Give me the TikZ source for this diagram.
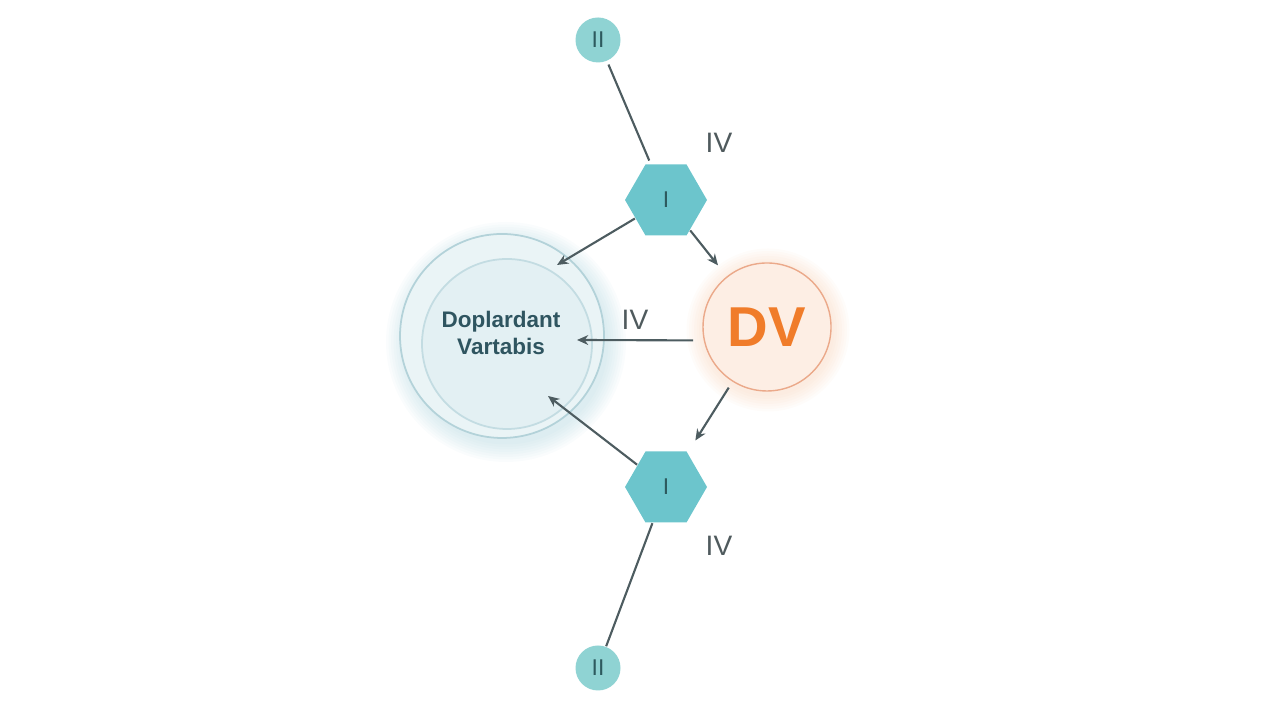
\documentclass[tikz,border=0pt]{standalone}
\usepackage{fontspec}
\setmainfont{Liberation Sans}
\usetikzlibrary{shapes.geometric,arrows.meta}
\definecolor{hexfill}{HTML}{6CC5CC}
\definecolor{smallfill}{HTML}{8FD3D3}
\definecolor{tealtext}{HTML}{2D5A5E}
\definecolor{linegray}{HTML}{4D5C60}
\definecolor{labelgray}{HTML}{4F5A5D}
\definecolor{bigfill}{HTML}{EAF4F6}
\definecolor{bigline}{HTML}{B3D2D9}
\definecolor{innerfill}{HTML}{E3F0F3}
\definecolor{innerline}{HTML}{C3DCE2}
\definecolor{bigtext}{HTML}{2F5560}
\definecolor{glowblue}{HTML}{9CCAD6}
\definecolor{dvfill}{HTML}{FDEEE4}
\definecolor{dvline}{HTML}{EBA98A}
\definecolor{dvtext}{HTML}{F07C2A}
\definecolor{dvglow}{HTML}{F6C9A8}

\begin{document}
\begin{tikzpicture}[
  hexnode/.style={regular polygon, regular polygon sides=6, minimum size=0.82cm, inner sep=0pt, fill=hexfill, text=tealtext, font=\fontsize{6.5}{7}\selectfont},
  smallnode/.style={circle, minimum size=0.45cm, inner sep=0pt, fill=smallfill, text=tealtext, font=\fontsize{6.5}{7}\selectfont},
  link/.style={draw=linegray, line width=0.6pt},
  arr/.style={link, -{Stealth[length=3.2pt,width=2.8pt]}},
  ivlabel/.style={text=labelgray, font=\fontsize{8}{9}\selectfont}
]
\useasboundingbox (0,0) rectangle (12.8,7.2);

% soft halos behind the two big circles
\foreach \i in {1,...,8}
  \fill[glowblue, opacity=0.05] (5.06,3.78) circle ({1.00+0.025*\i});
\foreach \i in {1,...,7}
  \fill[dvglow, opacity=0.06] (7.68,3.90) circle ({0.64+0.025*\i});

\node[circle, minimum size=2.04cm, fill=bigfill, draw=bigline, line width=0.5pt] (big) at (5.02,3.84) {};
\node[circle, minimum size=1.70cm, fill=innerfill, draw=innerline, line width=0.5pt] (inner) at (5.07,3.76) {};
\node[align=center, text=bigtext, font=\fontsize{6.4}{7.7}\selectfont\bfseries] (biglabel) at (5.01,3.87) {Doplardant\\Vartabis};

\node[circle, minimum size=1.28cm, fill=dvfill, draw=dvline, line width=0.4pt, text=dvtext, font=\fontsize{16}{18}\selectfont\bfseries] (DV) at (7.67,3.93) {DV};

\node[smallnode] (tII) at (5.98,6.80) {II};
\node[hexnode] (hexTop) at (6.66,5.20) {I};
\node[hexnode] (hexBot) at (6.66,2.33) {I};
\node[smallnode] (bII) at (5.98,0.52) {II};

\coordinate (tipA) at (5.57,4.55);
\coordinate (tipB) at (5.77,3.80);
\coordinate (tipC) at (5.48,3.24);

\draw[link, shorten <=1pt, shorten >=1pt] (tII) -- (hexTop);
\draw[arr] (hexTop) -- (tipA);
\draw[arr, shorten >=4pt] (hexTop) -- (DV);
\draw[arr, shorten <=3pt] (DV.192) -- (tipB);
\draw[arr, shorten <=2pt, shorten >=4pt] (DV) -- (hexBot);
\draw[arr] (hexBot) -- (tipC);
\draw[link] (hexBot) -- (bII);

\node[ivlabel] (ivTop) at (7.19,5.77) {IV};
\node[ivlabel] (ivMid) at (6.35,4.00) {IV};
\node[ivlabel] (ivBot) at (7.19,1.74) {IV};
\end{tikzpicture}
\end{document}
